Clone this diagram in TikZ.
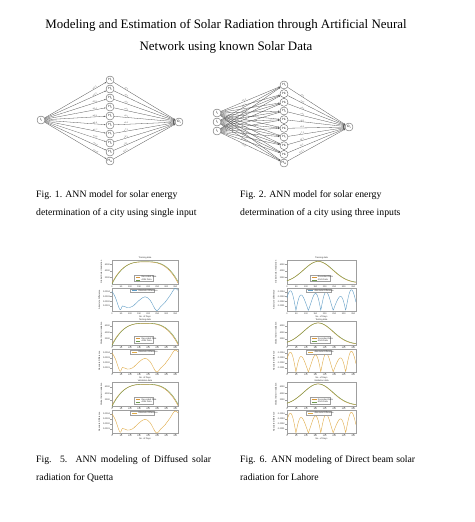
\documentclass[tikz,border=0pt]{standalone}
\usepackage{fontspec}
\setmainfont{Liberation Serif}
\setsansfont{Liberation Sans}
\usepackage{tikz}
\usetikzlibrary{arrows.meta, positioning, calc}
\definecolor{wiregray}{HTML}{555555}
\definecolor{recorange}{HTML}{D9963A}
\definecolor{anngreen}{HTML}{6E9A4E}
\definecolor{errblue}{HTML}{5E9CC6}
\definecolor{errorange}{HTML}{E0AA45}
\newcommand{\nsub}[1]{\raisebox{-0.4pt}{\fontsize{2}{2}\selectfont#1}}

\begin{document}
\begin{tikzpicture}[x=1pt, y=-1pt,
  neuron/.style={circle, draw=wiregray, fill=white, line width=0.35pt,
                 minimum size=8pt, inner sep=0pt, font=\sffamily\fontsize{3.2}{3.2}\selectfont},
  wire/.style={-{Latex[length=1.6pt,width=1.2pt]}, draw=wiregray, line width=0.3pt},
  wlabel/.style={font=\sffamily\fontsize{2}{2}\selectfont, sloped, above, inner sep=0.3pt, text=wiregray},
  caption/.style={font=\fontsize{9.75}{18}\selectfont, anchor=west, inner sep=0pt},
  panelframe/.style={draw=gray!75, line width=0.3pt},
  plottext/.style={font=\sffamily\fontsize{2.2}{2.6}\selectfont, inner sep=0.4pt, text=black!80},
  reccurve/.style={draw=recorange, line width=0.45pt},
  anncurve/.style={draw=anngreen, line width=0.35pt}]
  \useasboundingbox[fill=white] (0,0) rectangle (474,522);

  % title
  \node[font=\fontsize{12.9}{22}\selectfont, align=center] (title) at (226,36)
    {Modeling and Estimation of Solar Radiation through Artificial Neural\\Network using known Solar Data};

  % Fig. 1 network, single input
  \node[neuron] (ina) at (41,120) {I\nsub{1}};
  \foreach \i in {1,...,10}
    \node[neuron] (ha\i) at (110,{71+9*\i}) {H\nsub{\i}};
  \node[neuron] (outa) at (179,122) {O\nsub{1}};
  \foreach \i in {1,...,10} {
    \draw[wire] (ina) -- node[wlabel, pos=0.82] (wa\i) {w1.\i} (ha\i);
    \draw[wire] (ha\i) -- node[wlabel, pos=0.2] (va\i) {v\i.1} (outa);
  }

  % Fig. 2 network, three inputs
  \foreach \j in {1,2,3}
    \node[neuron] (inb\j) at (217,{104+9*\j}) {I\nsub{\j}};
  \foreach \i in {1,...,10}
    \node[neuron] (hb\i) at (284,{76.3+8.67*\i}) {H\nsub{\i}};
  \node[neuron] (outb) at (349,127) {O\nsub{1}};
  \foreach \j in {1,2,3} {
    \foreach \i in {1,...,10}
      \draw[wire] (inb\j) -- (hb\i);
    \path (inb\j) -- node[wlabel, pos=0.4] (wbt\j) {w\j.1} (hb1);
    \path (inb\j) -- node[wlabel, pos=0.4, below] (wbb\j) {w\j.10} (hb10);
  }
  \foreach \i in {1,...,10}
    \draw[wire] (hb\i) -- node[wlabel, pos=0.25] (vb\i) {v\i.1} (outb);

  % captions
  \node[caption, align=left] (capa) at (36,204)
    {Fig. 1. ANN model for solar energy\\determination of a city using single input};
  \node[caption, align=left] (capb) at (240,204)
    {Fig. 2. ANN model for solar energy\\determination of a city using three inputs};
  \node[caption, text width=175pt, align=justify] (cape) at (36,468.5)
    {Fig. 5. ANN modeling of Diffused solar\linebreak radiation for Quetta};
  \node[caption, text width=175pt, align=justify] (capf) at (240,468.5)
    {Fig. 6. ANN modeling of Direct beam solar\linebreak radiation for Lahore};

  % result panels, Fig. 5 (left) and Fig. 6 (right)
  \foreach \py/\ttl/\ec [count=\pk] in {260/Training data/errblue,
      321.5/Testing data/errorange, 382.5/Validation data/errorange} {
    \foreach \xo/\pw/\cl in {112/66/1, 287/69/2} {
      % fitted curve panel
      \begin{scope}[shift={(\xo,\py+24)}, x=\pw pt, y=24pt]
        \draw[panelframe] (0,0) rectangle (1,1);
        \node[plottext, above] (tt\cl\pk) at (0.5,1) {\ttl};
        \foreach \tk [evaluate=\tk as \dv using int(50*\tk)] in {0,...,7} {
          \draw[panelframe] ({\tk/7.3},0) -- ({\tk/7.3},-0.05);
          \node[plottext, below] (xt\cl\pk\tk) at ({\tk/7.3},-0.05) {\dv};
        }
        \foreach \s [evaluate=\s as \dv using int(2000*\s)] in {1,2,3} {
          \draw[panelframe] (0,{0.27*\s}) -- (-0.025,{0.27*\s});
          \node[plottext, left] (yt\cl\pk\s) at (-0.025,{0.27*\s}) {\dv};
        }
        \node[plottext, rotate=90] (yl\cl\pk) at (-0.16,0.5) {Global Solar Irradiation};
        \ifnum\cl=1
          \draw[reccurve] plot[domain=0:1, samples=60, smooth] (\x,{0.04+0.88*(1-abs(2*\x-1)^3)});
          \draw[anncurve] plot[domain=0:1, samples=60, smooth] (\x,{0.05+0.88*(1-abs(2*\x-1.02)^3)});
        \else
          \draw[reccurve] plot[domain=0:1, samples=60, smooth] (\x,{0.04+0.9*exp(-((\x-0.45)/0.3)^2)});
          \draw[anncurve] plot[domain=0:1, samples=60, smooth] (\x,{0.05+0.89*exp(-((\x-0.455)/0.3)^2)});
        \fi
        \draw[panelframe, fill=white] (0.33,0.1) rectangle (0.63,0.38);
        \draw[reccurve] (0.36,0.3) -- (0.43,0.3);
        \node[plottext, right] (lr\cl\pk) at (0.44,0.3) {Recorded Data};
        \draw[anncurve] (0.36,0.18) -- (0.43,0.18);
        \node[plottext, right] (la\cl\pk) at (0.44,0.18) {ANN Data};
      \end{scope}
      % absolute difference panel
      \begin{scope}[shift={(\xo,\py+51)}, x=\pw pt, y=23pt]
        \draw[panelframe] (0,0) rectangle (1,1);
        \foreach \tk [evaluate=\tk as \dv using int(50*\tk)] in {0,...,7} {
          \draw[panelframe] ({\tk/7.3},0) -- ({\tk/7.3},-0.05);
          \node[plottext, below] (xd\cl\pk\tk) at ({\tk/7.3},-0.05) {\dv};
        }
        \foreach \s in {1,...,4} {
          \draw[panelframe] (0,{0.21*\s}) -- (-0.025,{0.21*\s});
          \node[plottext, left] (yd\cl\pk\s) at (-0.025,{0.21*\s}) {0.000\s};
        }
        \node[plottext, rotate=90] (dl\cl\pk) at (-0.19,0.5) {Absolute Difference};
        \node[plottext] (nd\cl\pk) at (0.5,-0.24) {No. of Days};
        \ifnum\cl=1
          \draw[draw=\ec, line width=0.4pt] plot[smooth, tension=0.6] coordinates {(0,0.85) (0.05,0.6)
            (0.12,0.06) (0.16,0.22) (0.23,0.15) (0.31,0.2) (0.41,0.46) (0.5,0.62) (0.58,0.46)
            (0.67,0.03) (0.74,0.2) (0.81,0.4) (0.89,0.72) (0.95,0.98) (1,0.9)};
        \else
          \draw[draw=\ec, line width=0.4pt] plot[domain=0:1, samples=140]
            (\x,{0.02+(0.72+0.22*sin(900*\x))*abs(cos(1000*(\x-0.04)))});
        \fi
        \draw[panelframe, fill=white] (0.28,0.8) rectangle (0.64,0.97);
        \draw[draw=\ec, line width=0.4pt] (0.31,0.885) -- (0.38,0.885);
        \node[plottext, right] (ld\cl\pk) at (0.39,0.885) {Absolute Difference};
      \end{scope}
    }
  }
\end{tikzpicture}
\end{document}
